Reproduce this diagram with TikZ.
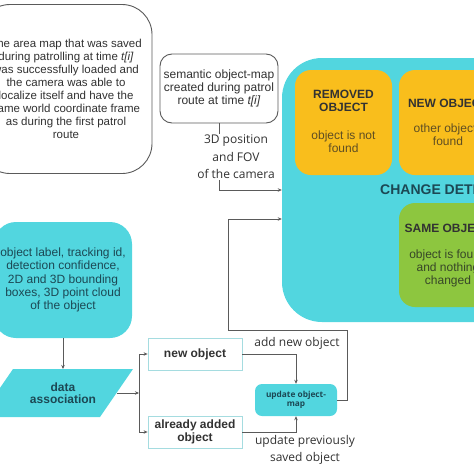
\documentclass[tikz,border=0pt]{standalone}
\usepackage{fontspec}
\setmainfont{Liberation Sans}
\newfontfamily\osans{Open Sans}
\usetikzlibrary{arrows.meta}
\definecolor{cyb}{RGB}{82,214,223}
\definecolor{orb}{RGB}{249,190,28}
\definecolor{grb}{RGB}{141,198,63}
\definecolor{lnc}{RGB}{90,90,90}
\definecolor{tealtx}{RGB}{28,72,84}
\definecolor{ltb}{RGB}{165,220,224}
\definecolor{txg}{RGB}{50,50,50}
\definecolor{brtx}{RGB}{95,78,35}
\definecolor{grtx}{RGB}{55,70,40}
\begin{document}
\begin{tikzpicture}[x=1pt,y=-1pt,
  conn/.style={draw=lnc, line width=0.7pt},
  arr/.style={conn,-{Stealth[length=4pt,width=3.5pt]}},
  whitebox/.style={draw=lnc, line width=0.9pt, fill=white, align=center, inner sep=0pt, text=txg,
    font=\fontsize{12}{13}\selectfont},
  colbox/.style={inner sep=0pt, rounded corners=16pt},
  ttl/.style={inner sep=0pt, align=center, text=txg, font=\bfseries\fontsize{12}{13}\selectfont},
  bdy/.style={inner sep=0pt, align=center, font=\fontsize{12}{13}\selectfont},
  lblbox/.style={draw=ltb, line width=0.8pt, fill=white, inner sep=0pt, align=center,
    minimum width=94pt, minimum height=32pt, font=\bfseries\fontsize{12}{12.5}\selectfont, text=txg},
  lbltxt/.style={font=\osans\fontsize{12}{17.5}\selectfont, text=txg, align=center, inner sep=1pt}
]
\useasboundingbox (0,0) rectangle (474,474);
\clip (0,0) rectangle (474,474);

% top-left box
\node[whitebox, rounded corners=30pt, minimum width=172pt, minimum height=169pt,
  font=\fontsize{11.5}{13}\selectfont] (area) at (66,89)
  {The area map that was saved\\during patrolling at time \textit{t[i]}\\was successfully loaded and\\the camera was able to\\localize itself and have the\\same world coordinate frame\\as during the first patrol\\route};

% semantic box
\node[whitebox, rounded corners=12pt, minimum width=118pt, minimum height=69pt] (sem) at (219,88.5)
  {semantic object-map\\created during patrol\\route at time \textit{t[i]}};

% change detection box
\node[fill=cyb, rounded corners=40pt, minimum width=300pt, minimum height=264pt, inner sep=0pt] (cd) at (432,190) {};
\node[anchor=west, inner sep=0pt, font=\bfseries\fontsize{14}{14}\selectfont, text=tealtx] (cdt) at (380,190) {CHANGE DETECTION};

\node[colbox, fill=orb, minimum width=97pt, minimum height=105pt] (rem) at (343.5,122.5) {};
\node[ttl] (remt) at (343.5,101) {REMOVED\\OBJECT};
\node[bdy, text=brtx] (remb) at (343.5,141.5) {object is not\\found};

\node[colbox, fill=orb, minimum width=98pt, minimum height=105pt] (new) at (448,122.5) {};
\node[ttl] (newt) at (448,103) {NEW OBJECT};
\node[bdy, text=brtx] (newb) at (448,135) {other objects\\found};

\node[colbox, fill=grb, minimum width=98pt, minimum height=104pt] (same) at (448,255) {};
\node[ttl] (samet) at (448,228.5) {SAME OBJECT};
\node[bdy, text=grtx] (sameb) at (448,268) {object is found\\and nothing\\changed};

% left cyan box
\node[fill=cyb, rounded corners=22pt, minimum width=138pt, minimum height=116pt, inner sep=0pt,
  align=center, text=tealtx, font=\fontsize{12}{13.3}\selectfont] (obj) at (63,280)
  {object label, tracking id,\\detection confidence,\\2D and 3D bounding\\boxes, 3D point cloud\\of the object};

% data association
\fill[cyb] (13,369) -- (133,369) -- (100,417) -- (-20,417) -- cycle;
\node[inner sep=0pt, align=center, text=tealtx, font=\bfseries\fontsize{12}{12.5}\selectfont] (da) at (63,393)
  {data\\association};
\coordinate (daE) at (117,393);
\coordinate (daN) at (63,369);

% new / already boxes
\node[lblbox] (nob) at (195,354) {new object};
\node[lblbox] (aob) at (195,432) {already added\\object};

% update object-map
\node[fill=cyb, rounded corners=7pt, minimum width=82pt, minimum height=32pt, inner sep=0pt,
  align=center, text=tealtx, font=\osans\bfseries\fontsize{8.3}{9}\selectfont] (upd) at (296,400)
  {update object-\\map};

% connectors
\coordinate (j) at (139,393);
\draw[arr] (obj.south) -- (daN);
\draw[arr] (daE) -- (j);
\draw[arr] (j) |- (nob.west);
\draw[arr] (j) |- (aob.west);
\draw[arr] (nob.east) -| (upd.north);
\draw[arr] (aob.east) -| (upd.south);

\coordinate (s1) at (219,190);
\draw[arr] (sem.south) -- (s1) -- (cd.west |- s1);
\node[lbltxt, fill=white] (lbl3d) at (236,157) {3D position\\and FOV\\of the camera};

\coordinate (l1) at (347,400);
\coordinate (l2) at (347,330);
\coordinate (l3) at (228,330);
\coordinate (l4) at (228,219);
\draw[arr] (upd.east) -- (l1) -- (l2) -- (l3) -- (l4) -- (cd.west |- l4);

\node[lbltxt] (lbladd) at (297,343) {add new object};
\node[lbltxt] (lblupd) at (305,450) {update previously\\saved object};
\end{tikzpicture}
\end{document}
